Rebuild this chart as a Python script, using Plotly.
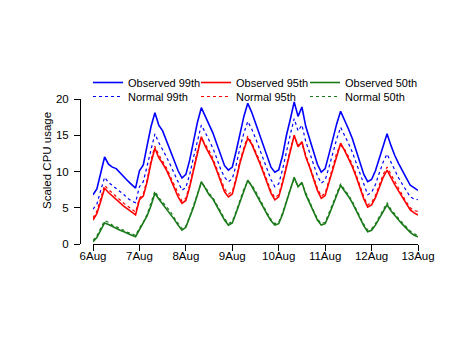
import plotly.graph_objects as go

# hours since 6Aug 00:00, every 2 hours
hours = list(range(0, 169, 2))
day_ticks = [0, 24, 48, 72, 96, 120, 144, 168]
day_labels = ["6Aug", "7Aug", "8Aug", "9Aug", "10Aug", "11Aug", "12Aug", "13Aug"]
y_ticks = [0, 5, 10, 15, 20]

obs99 = [6.8, 7.6, 9.8, 12.0, 11.0, 10.6, 10.4, 9.8, 9.3, 8.7, 8.2, 7.7,
         10.1, 10.9, 13.6, 16.2, 18.1, 16.4, 15.6, 14.2, 12.9, 11.4, 10.1, 9.1,
         9.6, 11.6, 14.2, 16.8, 18.8, 17.6, 16.4, 15.3, 13.8, 12.2, 10.8, 10.2,
         10.6, 12.8, 15.4, 17.6, 19.4, 18.2, 16.7, 15.2, 13.6, 12.0, 10.6, 9.9,
         10.2, 12.2, 15.0, 17.2, 19.6, 17.6, 18.9, 16.2, 14.5, 12.6, 11.0, 9.9,
         10.4, 12.4, 14.6, 16.6, 18.3, 17.2, 15.9, 14.6, 13.0, 11.2, 9.6, 8.6,
         8.9, 10.1, 11.8, 13.4, 15.2, 13.6, 12.2, 11.1, 10.2, 9.1, 8.1, 7.7,
         7.4]
norm99 = [4.8, 5.5, 7.4, 9.2, 8.5, 8.1, 7.6, 7.2, 6.8, 6.3, 5.9, 5.7,
          7.9, 8.6, 10.9, 13.3, 15.2, 14.0, 13.1, 12.0, 10.9, 9.7, 8.4, 7.4,
          7.8, 9.6, 12.0, 14.4, 16.4, 15.4, 14.3, 13.2, 11.8, 10.3, 9.2, 8.6,
          9.0, 10.9, 13.3, 15.3, 16.9, 15.9, 14.6, 13.2, 11.8, 10.3, 8.9, 7.9,
          8.3, 10.3, 12.9, 15.1, 17.3, 15.6, 16.4, 14.1, 12.6, 10.9, 9.4, 8.4,
          8.8, 10.6, 12.6, 14.5, 16.1, 15.1, 13.9, 12.7, 11.2, 9.6, 8.0, 6.8,
          7.1, 8.2, 9.8, 11.3, 12.4, 11.3, 10.1, 9.1, 8.2, 7.3, 6.5, 6.2,
          6.1]
obs95 = [3.3, 4.2, 5.9, 7.7, 7.1, 6.6, 6.2, 5.7, 5.2, 4.8, 4.4, 4.0,
         6.1, 6.6, 8.6, 11.2, 13.2, 11.9, 11.1, 10.2, 9.0, 7.8, 6.5, 5.6,
         6.0, 7.9, 10.2, 12.6, 14.8, 13.5, 12.6, 11.5, 10.1, 8.6, 7.2, 6.5,
         6.9, 8.9, 11.2, 13.0, 14.6, 13.8, 12.6, 11.3, 9.9, 8.4, 7.0, 6.1,
         6.5, 8.4, 10.8, 12.8, 15.0, 13.4, 14.1, 12.0, 10.6, 9.0, 7.4, 6.3,
         6.7, 8.5, 10.4, 12.3, 13.9, 12.9, 11.8, 10.7, 9.3, 7.7, 6.2, 5.1,
         5.4, 6.4, 7.8, 9.2, 10.2, 9.3, 8.2, 7.3, 6.4, 5.5, 4.7, 4.3,
         4.0]
norm95 = [3.6, 4.5, 6.3, 8.1, 7.5, 7.0, 6.5, 6.1, 5.6, 5.2, 4.8, 4.4,
          6.3, 6.9, 8.9, 11.6, 13.5, 12.3, 11.4, 10.5, 9.3, 8.1, 6.9, 5.9,
          6.3, 8.2, 10.5, 12.9, 14.6, 13.8, 12.9, 11.8, 10.4, 8.9, 7.6, 6.9,
          7.2, 9.2, 11.5, 13.3, 14.9, 14.0, 12.9, 11.6, 10.2, 8.7, 7.3, 6.4,
          6.8, 8.7, 11.1, 13.1, 14.8, 13.7, 13.8, 12.3, 10.9, 9.3, 7.7, 6.6,
          7.0, 8.8, 10.7, 12.6, 13.6, 13.1, 12.1, 11.0, 9.6, 8.0, 6.5, 5.4,
          5.7, 6.7, 8.1, 9.6, 10.6, 9.6, 8.5, 7.6, 6.7, 5.8, 5.0, 4.6,
          4.5]
obs50 = [0.3, 0.9, 1.9, 2.9, 2.7, 2.4, 2.2, 1.9, 1.7, 1.4, 1.2, 1.0,
         2.0, 2.8, 3.9, 5.3, 7.0, 6.2, 5.5, 4.9, 4.2, 3.4, 2.6, 1.9,
         2.3, 3.6, 5.1, 6.8, 8.6, 7.7, 6.8, 6.2, 5.2, 4.2, 3.3, 2.6,
         2.9, 4.3, 5.9, 7.3, 8.8, 8.0, 7.1, 6.2, 5.1, 4.1, 3.2, 2.6,
         2.8, 4.1, 5.8, 7.4, 9.2, 7.9, 8.5, 6.8, 5.6, 4.4, 3.3, 2.6,
         2.8, 4.0, 5.4, 6.8, 8.1, 7.3, 6.6, 5.7, 4.6, 3.5, 2.5, 1.7,
         1.9, 2.6, 3.6, 4.6, 5.4, 4.6, 3.9, 3.3, 2.7, 2.1, 1.6, 1.2,
         1.0]
norm50 = [0.5, 1.1, 2.2, 3.2, 3.0, 2.6, 2.4, 2.1, 1.9, 1.6, 1.4, 1.2,
          2.2, 3.0, 4.1, 5.6, 7.3, 6.4, 5.8, 5.1, 4.5, 3.6, 2.8, 2.1,
          2.5, 3.8, 5.4, 7.0, 8.4, 7.9, 7.0, 6.4, 5.4, 4.4, 3.5, 2.8,
          3.1, 4.5, 6.1, 7.6, 8.6, 8.2, 7.3, 6.4, 5.3, 4.3, 3.4, 2.8,
          3.0, 4.3, 6.0, 7.6, 8.9, 8.1, 8.3, 7.0, 5.8, 4.6, 3.5, 2.8,
          3.0, 4.2, 5.6, 7.0, 8.3, 7.5, 6.8, 5.9, 4.8, 3.7, 2.7, 1.9,
          2.1, 2.8, 3.8, 4.8, 5.7, 4.8, 4.1, 3.5, 2.9, 2.3, 1.8, 1.4,
          1.2]

BLUE, RED, GREEN = "#0000FF", "#FF0000", "#1A7A1A"
FONT = "Liberation Sans, Arial, sans-serif"

series = [
    ("Observed 99th", obs99, BLUE, "solid"),
    ("Observed 95th", obs95, RED, "solid"),
    ("Observed 50th", obs50, GREEN, "solid"),
    ("Normal 99th", norm99, BLUE, "dot"),
    ("Normal 95th", norm95, RED, "dot"),
    ("Normal 50th", norm50, GREEN, "dot"),
]

OFF = 8  # page body margin
W, H = 474 - OFF, 355 - OFF
L, T = 80 - OFF, 99 - OFF
R = W - (432 - OFF)
B = H - (244 - OFF)
pw = W - L - R
ph = H - T - B

# legend layout: 3 columns x 2 rows (screen px of legend box left / row centre)
col_left = [88, 196, 305]
row_mid = [82.5, 96.5]

fig = go.Figure()
legends = {}
for i, (name, vals, color, dash) in enumerate(series):
    key = "legend" if i == 0 else f"legend{i + 1}"
    fig.add_trace(go.Scatter(
        x=hours, y=vals, mode="lines", name=name, legend=key, showlegend=True,
        line=dict(color=color, width=1.6 if dash == "solid" else 1.2, dash=dash),
    ))
    col, row = i % 3, i // 3
    legends[key] = dict(orientation="h", xanchor="left", yanchor="middle",
                        x=(col_left[col] - 80) / pw, y=(244 - row_mid[row]) / ph,
                        bgcolor="rgba(0,0,0,0)", visible=True,
                        font=dict(family=FONT, size=11, color="black"))

axis_common = dict(showgrid=False, zeroline=False, showline=True, linecolor="black",
                   linewidth=1, ticks="outside", ticklen=6, tickcolor="black",
                   tickfont=dict(family=FONT, size=11.5, color="black"))

fig.update_layout(
    width=W, height=H, showlegend=True,
    margin=dict(l=L, r=R, t=T, b=B, pad=0, autoexpand=False),
    plot_bgcolor="white", paper_bgcolor="white",
    font=dict(family=FONT, size=11.5, color="black"),
    xaxis=dict(domain=[13 / pw, 338 / pw], range=[0, 168], tickvals=day_ticks,
               ticktext=day_labels, ticklabelstandoff=-5, **axis_common),
    yaxis=dict(range=[0, 20], tickvals=y_ticks, anchor="free", position=0,
               ticklabelstandoff=3, **axis_common),
    annotations=[dict(text="Scaled CPU usage", textangle=-90, xref="paper", yref="paper",
                      x=(47 - 80) / pw, y=(244 - 161) / ph, xanchor="center",
                      yanchor="middle", showarrow=False,
                      font=dict(family=FONT, size=11.5, color="black"))],
    **legends,
)

fig.write_html("out.html")
